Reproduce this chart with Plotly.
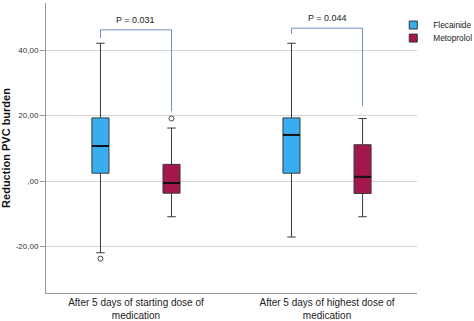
import plotly.graph_objects as go

# ---- data ----
categories = ["After 5 days of starting dose of<br>medication",
              "After 5 days of highest dose of<br>medication"]
series = ["Flecainide", "Metoprolol"]
colors = ["#38AEEE", "#A3174F"]

flec_lower = [-21.9, -17.1]
flec_q1 = [2.4, 2.4]
flec_median = [10.7, 14.1]
flec_q3 = [19.3, 19.3]
flec_upper = [42.1, 42.1]
flec_outliers = [[-23.7], []]

meto_lower = [-10.9, -10.9]
meto_q1 = [-3.7, -3.8]
meto_median = [-0.6, 1.3]
meto_q3 = [5.1, 11.1]
meto_upper = [16.2, 19.1]
meto_outliers = [[19.1], []]

p_labels = ["P = 0.031", "P = 0.044"]
bracket_left_end = [43.7, 45.0]
bracket_top = [46.2, 46.7]
bracket_right_end = [21.3, 22.9]
p_text_y = [49.3, 49.8]

ytick_vals = [-20, 0, 20, 40]
ytick_text = ["-20,00", ",00", "20,00", "40,00"]

# ---- layout params ----
BOXGAP = 0.256
BOXGROUPGAP = 0.76
pos = list(range(len(categories)))
offsets = [-0.25 * (1 - BOXGAP), 0.25 * (1 - BOXGAP)]
halfw = 0.25 * (1 - BOXGAP) * (1 - BOXGROUPGAP)

stats = [
    (flec_lower, flec_q1, flec_median, flec_q3, flec_upper, flec_outliers),
    (meto_lower, meto_q1, meto_median, meto_q3, meto_upper, meto_outliers),
]

fig = go.Figure()
for i, (lo, q1, med, q3, up, outl) in enumerate(stats):
    fig.add_trace(go.Box(
        x=pos, q1=q1, median=med, q3=q3, lowerfence=lo, upperfence=up,
        name=series[i], fillcolor=colors[i],
        line=dict(color="#3a3a3a", width=1), whiskerwidth=0.5,
        boxpoints=False, showlegend=False, hoverinfo="skip",
    ))
# median lines (thicker)
for i, (lo, q1, med, q3, up, outl) in enumerate(stats):
    xs, ys = [], []
    for j, p in enumerate(pos):
        c = p + offsets[i]
        xs += [c - halfw, c + halfw, None]
        ys += [med[j], med[j], None]
    fig.add_trace(go.Scatter(x=xs, y=ys, mode="lines",
                             line=dict(color="#111111", width=2),
                             showlegend=False, hoverinfo="skip"))
# outliers
for i, (lo, q1, med, q3, up, outl) in enumerate(stats):
    xs, ys = [], []
    for j, p in enumerate(pos):
        for v in outl[j]:
            xs.append(p + offsets[i])
            ys.append(v)
    fig.add_trace(go.Scatter(x=xs, y=ys, mode="markers",
                             marker=dict(symbol="circle-open", size=5,
                                         color="#444444", line=dict(width=1)),
                             showlegend=False, hoverinfo="skip"))
# brackets
for j, p in enumerate(pos):
    xl, xr = p + offsets[0], p + offsets[1]
    fig.add_trace(go.Scatter(
        x=[xl, xl, xr, xr],
        y=[bracket_left_end[j], bracket_top[j], bracket_top[j], bracket_right_end[j]],
        mode="lines", line=dict(color="#6F8FC4", width=1),
        showlegend=False, hoverinfo="skip"))
    fig.add_annotation(x=p, y=p_text_y[j], text=p_labels[j], showarrow=False,
                       font=dict(size=9, color="#222222"), yanchor="middle")
# legend entries (one legend per entry for tight spacing)
legend_ids = ["legend", "legend2"]
for i, s in enumerate(series):
    fig.add_trace(go.Scatter(x=[None], y=[None], mode="markers", name=s,
                             legend=legend_ids[i],
                             marker=dict(symbol="square", size=8, color=colors[i],
                                         line=dict(color="#333333", width=1))))

leg_common = dict(x=0.936, xanchor="left", yanchor="middle",
                  font=dict(size=8.3), itemwidth=30,
                  bgcolor="rgba(0,0,0,0)", borderwidth=0)

fig.update_layout(
    width=474, height=321,
    margin=dict(l=46, r=57, t=3, b=28, autoexpand=False),
    boxmode="group", boxgap=BOXGAP, boxgroupgap=BOXGROUPGAP,
    plot_bgcolor="white", paper_bgcolor="white",
    font=dict(family="Liberation Sans, Arial, sans-serif", color="#222222"),
    legend=dict(y=0.924, **leg_common),
    legend2=dict(y=0.879, **leg_common),
)
fig.update_xaxes(range=[-0.471, 1.471], tickvals=pos, ticktext=categories,
                 showgrid=False, zeroline=False, showline=True,
                 linecolor="#999999", linewidth=1, ticks="",
                 tickfont=dict(size=10, color="#222222"))
fig.update_yaxes(range=[-34.2, 54.4], tickvals=ytick_vals, ticktext=ytick_text,
                 showgrid=True, gridcolor="#d4d4d4", gridwidth=1, zeroline=False,
                 showline=True, linecolor="#999999", linewidth=1,
                 ticks="outside", ticklen=5, tickcolor="#999999",
                 tickfont=dict(size=8, color="#333333"),
                 title=dict(text="<b>Reduction PVC burden</b>",
                            font=dict(size=11, color="#111111"), standoff=8))

fig.write_html("out.html")
